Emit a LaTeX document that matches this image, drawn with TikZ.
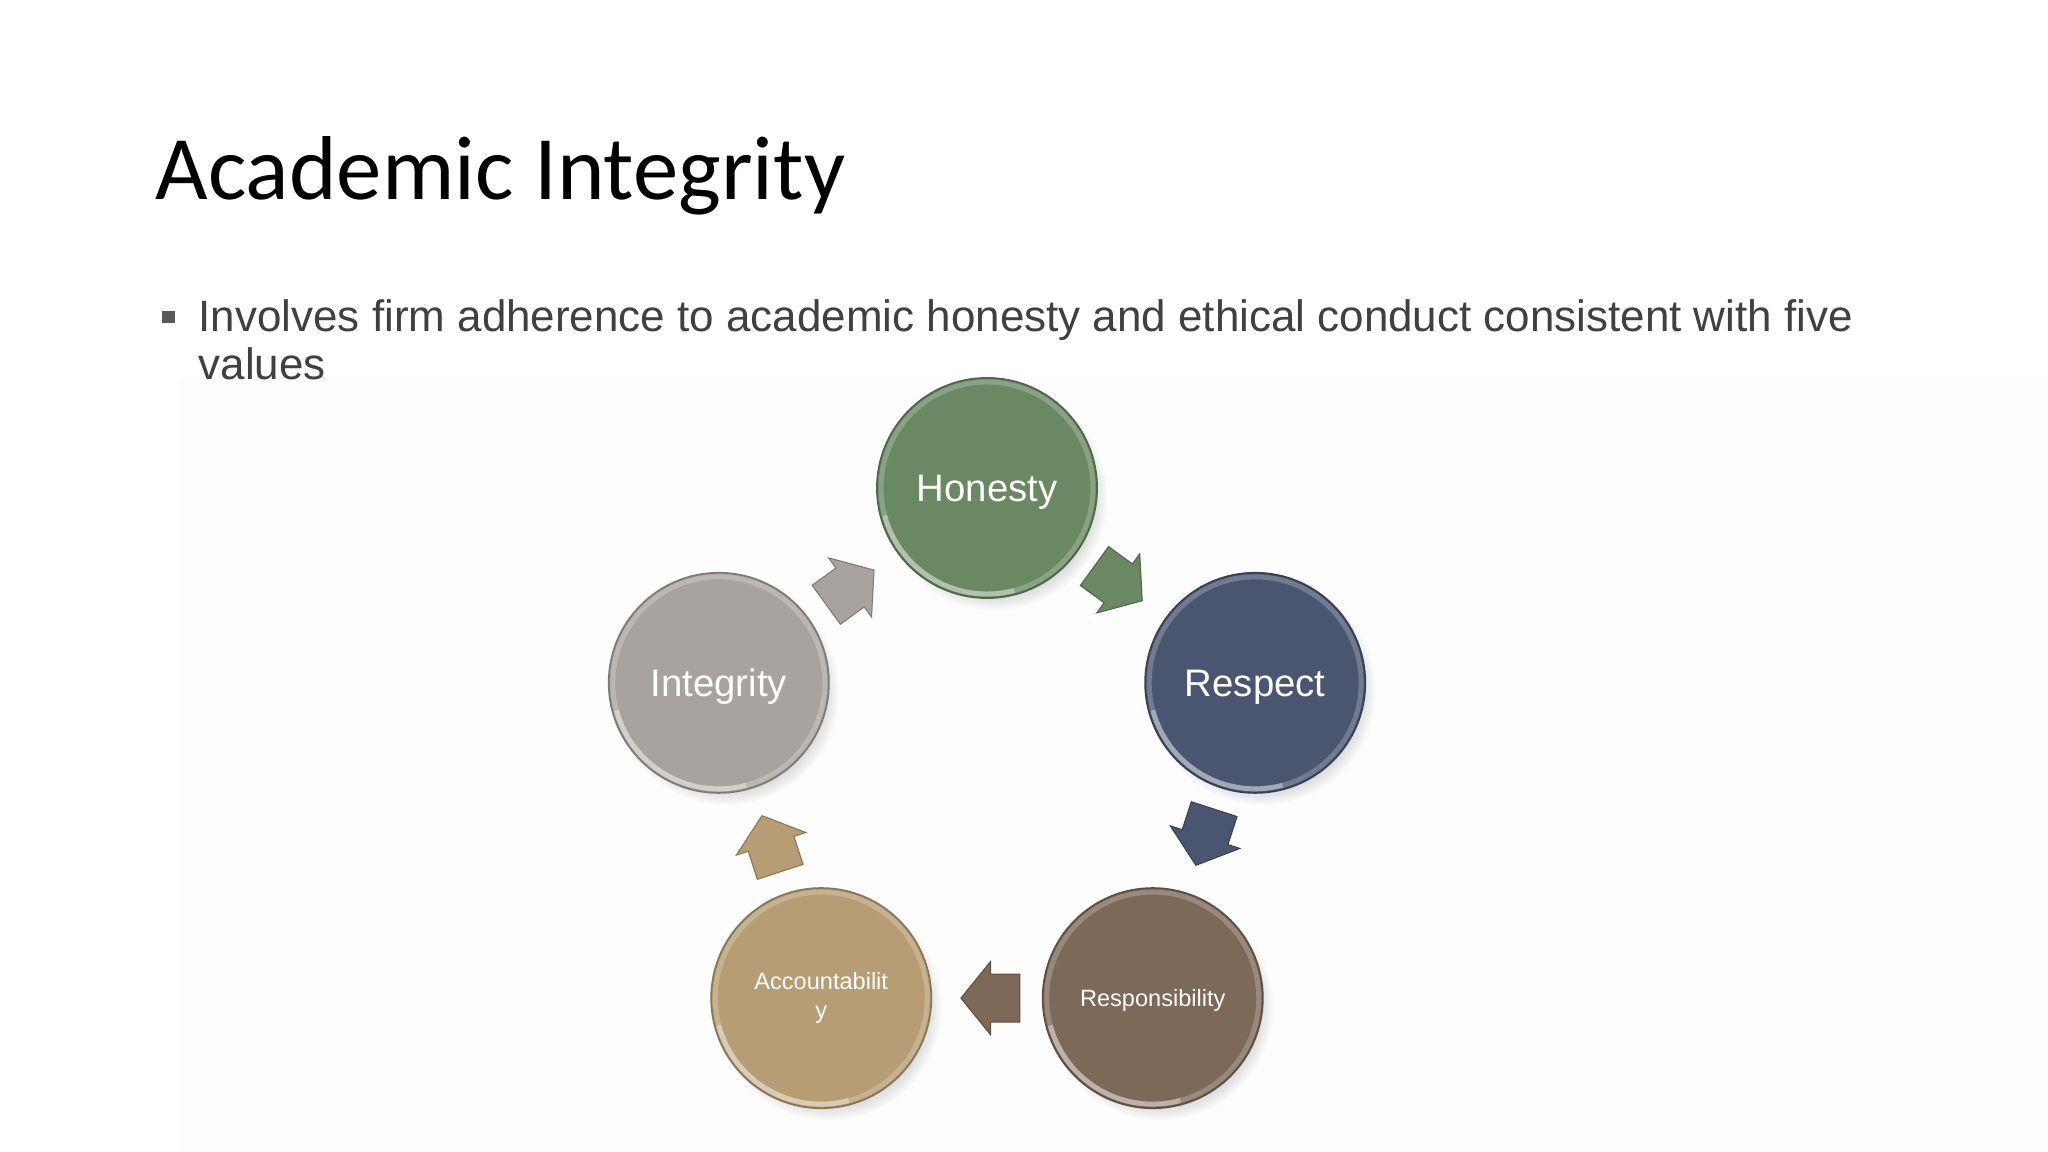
\documentclass[tikz,border=0pt]{standalone}
\usepackage{fontspec}
\setmainfont{Liberation Sans}
\newfontfamily\titlefont{Carlito}
\usetikzlibrary{calc, shapes.arrows, shadows}

\definecolor{honestycol}{RGB}{106,136,98}
\definecolor{respectcol}{RGB}{74,86,112}
\definecolor{responscol}{RGB}{125,105,88}
\definecolor{accountcol}{RGB}{182,157,115}
\definecolor{integritycol}{RGB}{168,163,158}
\definecolor{bodytext}{RGB}{64,64,64}
\definecolor{bulletcol}{RGB}{89,89,89}
\definecolor{backtint}{RGB}{253,253,253}

\begin{document}
\begin{tikzpicture}[x=0.01cm, y=0.01cm,
  value/.style={circle, fill=#1, draw=#1!75!black, line width=0.5pt,
    minimum size=2.2cm, inner sep=0pt, text=white, align=center,
    circular drop shadow={shadow xshift=2pt, shadow yshift=-2.5pt, shadow scale=1.03, opacity=0.3}},
  flow/.style={single arrow, fill=#1, draw=#1!75!black, line width=0.3pt,
    minimum height=0.59cm, inner xsep=0pt, inner ysep=0.235cm,
    single arrow head extend=0.125cm, single arrow tip angle=102,
    sloped, allow upside down, pos=0.38},
  rim/.style={white, opacity=0.22, line width=1.4pt},
  bigtext/.style={font=\fontsize{10.9}{13}\selectfont, text depth=0pt},
  smalltext/.style={font=\fontsize{6.7}{8.25}\selectfont}]

  \useasboundingbox (0,0) rectangle (2048,1152);
  \fill[white] (0,0) rectangle (2048,1152);
  \fill[backtint] (179,0) rectangle (2048,773);

  % Title and bullet line
  \node[anchor=base west, inner sep=0pt, font=\titlefont\fontsize{25.8}{30}\selectfont] (title) at (155,952) {Academic Integrity};
  \node[rectangle, fill=bulletcol, minimum size=0.12cm, inner sep=0pt] (dot) at (168.5,834.5) {};
  \node[anchor=base west, inner sep=0pt, text=bodytext, font=\fontsize{12.5}{14}\selectfont] (intro) at (198,820)
    {Involves firm adherence to academic honesty and ethical conduct consistent with five};
  \node[anchor=base west, inner sep=0pt, text=bodytext, font=\fontsize{12.5}{14}\selectfont] (introb) at (198,772) {values};

  % The five values
  \coordinate (ctr) at (987,382);
  \node[value=honestycol, bigtext] (hon) at ($(ctr)+(90:282)$) {Honesty};
  \node[value=respectcol, bigtext] (res) at ($(ctr)+(18:282)$) {Respect};
  \node[value=responscol, smalltext, text depth=0pt] (rsp) at ($(ctr)+(-54:282)$) {Responsibility};
  \node[value=accountcol, smalltext] (acc) at ($(ctr)+(-126:282)$) {Accountabilit\\y};
  \node[value=integritycol, bigtext] (int) at ($(ctr)+(162:282)$) {Integrity};

  % Bevel highlight
  \foreach \n in {hon,res,rsp,acc,int} {
    \draw[rim] (\n.center) circle (106);
    \draw[rim, opacity=0.35] ([shift={(195:106)}]\n.center) arc (195:285:106);
  }

  % Arrows round the cycle
  \path (hon) -- node[flow=honestycol] (a1) {} (res);
  \path (res) -- node[flow=respectcol] (a2) {} (rsp);
  \path (rsp) -- node[flow=responscol] (a3) {} (acc);
  \path (acc) -- node[flow=accountcol] (a4) {} (int);
  \path (int) -- node[flow=integritycol] (a5) {} (hon);

\end{tikzpicture}
\end{document}
